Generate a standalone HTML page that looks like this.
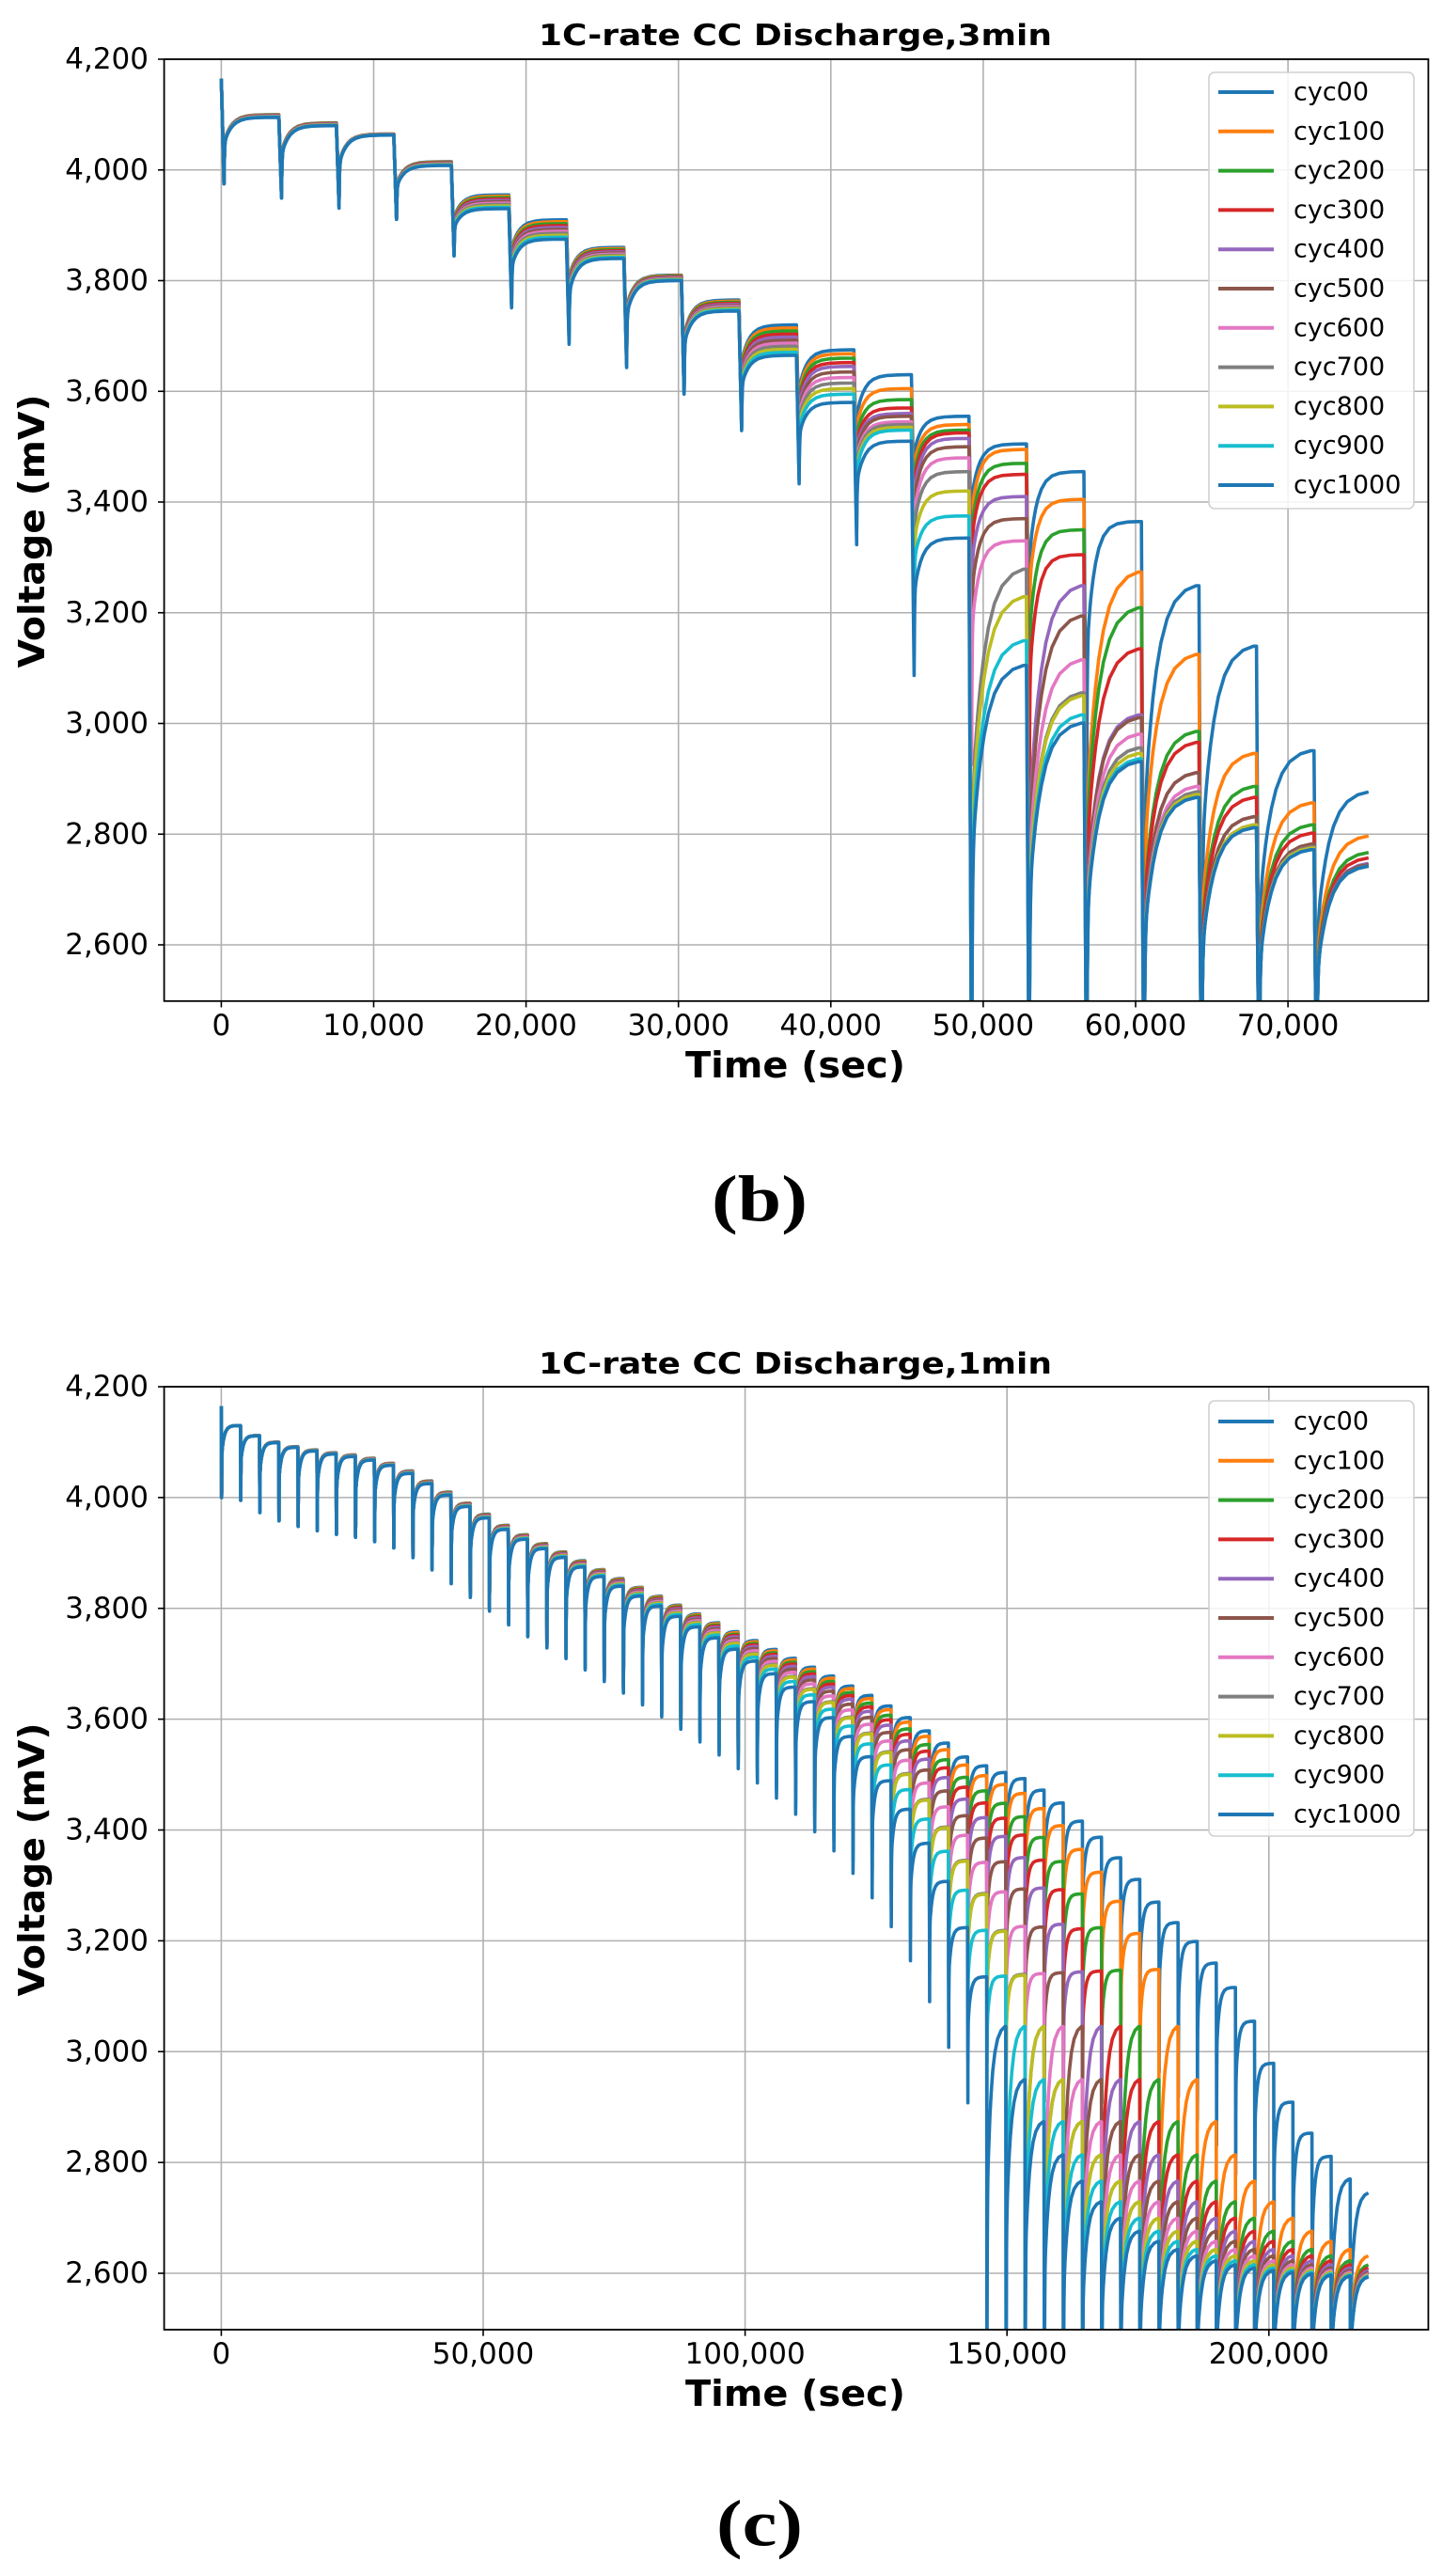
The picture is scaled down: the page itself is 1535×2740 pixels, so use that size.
<!DOCTYPE html>
<html><head><meta charset="utf-8"><style>
html,body{margin:0;padding:0;background:#fff;}
svg{display:block;}
text{font-family:"DejaVu Sans","Liberation Sans",sans-serif;fill:#000;}
</style></head><body>
<svg id="s" xmlns="http://www.w3.org/2000/svg" width="1535" height="2740" viewBox="0 0 1535 2740">
<defs>
<clipPath id="cb"><rect x="174.6" y="63" width="1344.8" height="1001.8"/></clipPath>
<clipPath id="cc"><rect x="174.6" y="1475" width="1344.8" height="1003"/></clipPath>
</defs>
<rect width="1535" height="2740" fill="#fff"/>
<g id="gridb" stroke="#b0b0b0" stroke-width="1.6"></g>
<g id="gridc" stroke="#b0b0b0" stroke-width="1.6"></g>
<g id="datab" clip-path="url(#cb)" fill="none" stroke-width="3.6" stroke-linejoin="round"></g>
<g id="datac" clip-path="url(#cc)" fill="none" stroke-width="3.6" stroke-linejoin="round"></g>
<rect x="174.6" y="63" width="1344.8" height="1001.8" fill="none" stroke="#000" stroke-width="1.8"/>
<rect x="174.6" y="1475" width="1344.8" height="1003" fill="none" stroke="#000" stroke-width="1.8"/>
<g id="ticks" stroke="#000" stroke-width="1.6"></g>

<text x="846" y="38" font-size="31" font-weight="bold" text-anchor="middle" dominant-baseline="central" textLength="546" lengthAdjust="spacingAndGlyphs">1C-rate CC Discharge,3min</text>
<g font-size="31" text-anchor="end" dominant-baseline="central">
<text x="158" y="63">4,200</text><text x="158" y="180.75">4,000</text><text x="158" y="298.5">3,800</text><text x="158" y="416.25">3,600</text><text x="158" y="534">3,400</text><text x="158" y="651.75">3,200</text><text x="158" y="769.5">3,000</text><text x="158" y="887.25">2,800</text><text x="158" y="1005">2,600</text>
</g>
<g font-size="31" text-anchor="middle" dominant-baseline="central">
<text x="235.4" y="1091">0</text><text x="397.5" y="1091">10,000</text><text x="559.6" y="1091">20,000</text><text x="721.7" y="1091">30,000</text><text x="883.8" y="1091">40,000</text><text x="1045.9" y="1091">50,000</text><text x="1208" y="1091">60,000</text><text x="1370.1" y="1091">70,000</text>
</g>
<text x="846" y="1133" font-size="38" font-weight="bold" text-anchor="middle" dominant-baseline="central" textLength="234" lengthAdjust="spacingAndGlyphs">Time (sec)</text>
<text transform="translate(34,565) rotate(-90)" font-size="38" font-weight="bold" text-anchor="middle" dominant-baseline="central" textLength="291" lengthAdjust="spacingAndGlyphs">Voltage (mV)</text>
<text x="808" y="1276" font-size="70" font-weight="bold" text-anchor="middle" dominant-baseline="central" style="font-family:'Liberation Serif',serif" textLength="102" lengthAdjust="spacingAndGlyphs">(b)</text>

<text x="846" y="1451" font-size="31" font-weight="bold" text-anchor="middle" dominant-baseline="central" textLength="546" lengthAdjust="spacingAndGlyphs">1C-rate CC Discharge,1min</text>
<g font-size="31" text-anchor="end" dominant-baseline="central">
<text x="158" y="1475">4,200</text><text x="158" y="1592.9">4,000</text><text x="158" y="1710.8">3,800</text><text x="158" y="1828.6">3,600</text><text x="158" y="1946.5">3,400</text><text x="158" y="2064.4">3,200</text><text x="158" y="2182.3">3,000</text><text x="158" y="2300.1">2,800</text><text x="158" y="2418">2,600</text>
</g>
<g font-size="31" text-anchor="middle" dominant-baseline="central">
<text x="235.4" y="2504">0</text><text x="514" y="2504">50,000</text><text x="792.6" y="2504">100,000</text><text x="1071.2" y="2504">150,000</text><text x="1349.8" y="2504">200,000</text>
</g>
<text x="846" y="2546" font-size="38" font-weight="bold" text-anchor="middle" dominant-baseline="central" textLength="234" lengthAdjust="spacingAndGlyphs">Time (sec)</text>
<text transform="translate(34,1978) rotate(-90)" font-size="38" font-weight="bold" text-anchor="middle" dominant-baseline="central" textLength="291" lengthAdjust="spacingAndGlyphs">Voltage (mV)</text>
<text x="808" y="2685" font-size="70" font-weight="bold" text-anchor="middle" dominant-baseline="central" style="font-family:'Liberation Serif',serif" textLength="92" lengthAdjust="spacingAndGlyphs">(c)</text>

<g id="legb">
<rect x="1286" y="77" width="218" height="464" rx="6" fill="#fff" fill-opacity="0.85" stroke="#d0d0d0" stroke-width="1.6"/>
</g>
<g id="legc">
<rect x="1286" y="1490" width="218" height="463" rx="6" fill="#fff" fill-opacity="0.85" stroke="#d0d0d0" stroke-width="1.6"/>
</g>
<g font-size="27" dominant-baseline="central">
<text x="1376" y="98">cyc00</text><text x="1376" y="139.8">cyc100</text><text x="1376" y="181.6">cyc200</text><text x="1376" y="223.4">cyc300</text><text x="1376" y="265.2">cyc400</text><text x="1376" y="307">cyc500</text><text x="1376" y="348.8">cyc600</text><text x="1376" y="390.6">cyc700</text><text x="1376" y="432.4">cyc800</text><text x="1376" y="474.2">cyc900</text><text x="1376" y="516">cyc1000</text>
<text x="1376" y="1512">cyc00</text><text x="1376" y="1553.8">cyc100</text><text x="1376" y="1595.6">cyc200</text><text x="1376" y="1637.4">cyc300</text><text x="1376" y="1679.2">cyc400</text><text x="1376" y="1721">cyc500</text><text x="1376" y="1762.8">cyc600</text><text x="1376" y="1804.6">cyc700</text><text x="1376" y="1846.4">cyc800</text><text x="1376" y="1888.2">cyc900</text><text x="1376" y="1930">cyc1000</text>
</g>
</svg>
<script>
(function(){
var NS="http://www.w3.org/2000/svg";
var tab=['#1f77b4','#ff7f0e','#2ca02c','#d62728','#9467bd','#8c564b','#e377c2','#7f7f7f','#bcbd22','#17becf','#1f77b4'];
function el(p,n,a){var e=document.createElementNS(NS,n);for(var k in a)e.setAttribute(k,a[k]);p.appendChild(e);return e;}
var gb=document.getElementById('gridb'),gc=document.getElementById('gridc'),tk=document.getElementById('ticks');
for(var i=0;i<=7;i++){var x=235.4+i*162.1;el(gb,'line',{x1:x,x2:x,y1:63,y2:1064.8});el(tk,'line',{x1:x,x2:x,y1:1064.8,y2:1071.5});}
for(var i=0;i<=8;i++){var y=63+i*117.75;el(gb,'line',{x1:174.6,x2:1519.4,y1:y,y2:y});el(tk,'line',{x1:168,x2:174.6,y1:y,y2:y});}
for(var i=0;i<=4;i++){var x=235.4+i*278.6;el(gc,'line',{x1:x,x2:x,y1:1475,y2:2478});el(tk,'line',{x1:x,x2:x,y1:2478,y2:2484.7});}
for(var i=0;i<=8;i++){var y=1475+i*117.875;el(gc,'line',{x1:174.6,x2:1519.4,y1:y,y2:y});el(tk,'line',{x1:168,x2:174.6,y1:y,y2:y});}
var lb=document.getElementById('legb'),lc=document.getElementById('legc');
for(var s=0;s<11;s++){
 el(lb,'line',{x1:1296,x2:1355,y1:98+s*41.8,y2:98+s*41.8,stroke:tab[s],'stroke-width':4});
 el(lc,'line',{x1:1296,x2:1355,y1:1512+s*41.8,y2:1512+s*41.8,stroke:tab[s],'stroke-width':4});
}
var offs=[0,4,8,14,22,35,55,80,115,160,220,300,420,580,800,1100,1500,2000,2700,3400];
function build(g,P,deep,T,dur,tEnd,X,Y,drop,firstMin){
 for(var s=0;s<11;s++){
  var prev=4165,d='',K=P[s].length;
  for(var k=0;k<K;k++){
   var t0=k*T,tn=(k+1<K)?(k+1)*T:tEnd,p=P[s][k];
   var dp=deep(s,k);
   var M=dp?2300:(k==0?firstMin:prev-drop(prev));
   if(!dp&&M<2450){dp=true;M=2300;}
   d+=(k==0?'M':'L')+X(t0).toFixed(1)+','+Y(prev).toFixed(1);
   d+='L'+X(t0+dur).toFixed(1)+','+Y(M).toFixed(1);
   var span=tn-t0-dur,v=p;
   for(var j=1;j<offs.length;j++){
    var tt=offs[j];if(tt>span)tt=span;
    if(dp)v=p-(p-M)*(0.55*Math.exp(-tt/40)+0.45*Math.exp(-tt/800));
    else v=p-(p-M)*(0.6*Math.exp(-tt/25)+0.4*Math.exp(-tt/500));
    d+='L'+X(t0+dur+tt).toFixed(1)+','+Y(v).toFixed(1);
    if(tt>=span)break;
   }
   prev=v;
  }
  el(g,'path',{d:d,stroke:tab[s]});
 }
}
var topB=[4100,4085,4065,4015,3955,3910,3860,3810,3765,3720];
var botB=[4095,4080,4063,4008,3930,3875,3840,3800,3745,3665];
var tbl=[
[3675,3668,3660,3652,3645,3635,3625,3615,3605,3595,3580],
[3630,3605,3585,3570,3560,3555,3545,3540,3535,3530,3510],
[3555,3540,3530,3525,3515,3500,3480,3455,3420,3375,3335],
[3505,3495,3470,3450,3410,3370,3330,3285,3235,3155,3110],
[3455,3405,3350,3305,3255,3200,3120,3060,3055,3020,3005],
[3365,3280,3215,3140,3020,3015,2985,2960,2950,2940,2935],
[3255,3130,2990,2970,2915,2915,2890,2880,2875,2870,2870],
[3145,2950,2890,2870,2835,2835,2820,2820,2820,2815,2815],
[2955,2860,2820,2805,2785,2785,2780,2780,2778,2775,2775],
[2880,2800,2770,2760,2750,2748,2745,2745,2745,2745,2745]];
var PB=[];
for(var s=0;s<11;s++){PB[s]=[];for(var k=0;k<20;k++){PB[s][k]=k<10?topB[k]+(botB[k]-topB[k])*s/10:tbl[k-10][s];}}
var kcB=[17,16,15,15,14,14,14,13,13,13,13];
build(document.getElementById('datab'),PB,function(s,k){return k>=kcB[s];},3774,180,75400,
 function(t){return 235.4+t*0.01621;},function(v){return 63+(4200-v)*0.58875;},
 function(p){var q=Math.max(0,(3600-p)/90);return 145+0.2*(4100-p)+160*q*q;},3975);
var topC=[4130,4112,4100,4092,4086,4081,4077,4071,4062,4048,4030,4010,3990,3970,3950,3933,3917,3902,3886,3870,3854,3838,3822,3806,3790,3774,3758,3742,3726,3710,3694,3678,3660,3643,3624,
3603,3579,3557,3532,3516,3504,3493,3472,3449,3416,3387,3350,3311,3270,3233,3199,3160,3116,3055,2979,2909,2853,2811,2773,2748];
var kcC=[999,49,47,46,45,44,43,42,42,41,40];
var PC=[];
for(var s=0;s<11;s++){PC[s]=[];for(var k=0;k<60;k++){
 if(s==0){PC[s][k]=topC[k];continue;}
 var kc=kcC[s];
 if(k<kc){var A=topC[kc-1]-3150;PC[s][k]=topC[k]-s*1.5*Math.min(k,35)/35-A*Math.exp((k-kc+1)/4.5);}
 else PC[s][k]=2590+(3050-2590)*Math.pow(0.79,k-kc);
}}
build(document.getElementById('datac'),PC,function(s,k){return k>=kcC[s];},3653,60,219200,
 function(t){return 235.4+t*278.6/50000;},function(v){return 1475+(4200-v)*0.589375;},
 function(p){return 135+0.2*(4130-p);},4000);
})();
</script>
</body></html>
